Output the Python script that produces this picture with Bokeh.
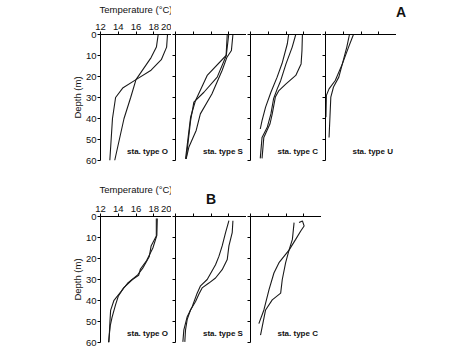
from bokeh.plotting import figure
from bokeh.layouts import row, column
from bokeh.models import Range1d, Label, Div
from bokeh.embed import file_html
from bokeh.resources import INLINE

FONT = "Liberation Sans"
temp_ticks = [12, 14, 16, 18, 20]
depth_ticks = [0, 10, 20, 30, 40, 50, 60]

# ---- Panel A, station type O
A_O_d1 = [0, 6, 12, 17, 21.5, 25.5, 30, 40, 60]
A_O_t1 = [19.55, 19.45, 18.85, 17.7, 16.0, 14.5, 13.7, 13.35, 13.05]
A_O_d2 = [0, 6, 11, 21.5, 30, 40, 60]
A_O_t2 = [18.5, 18.3, 17.7, 16.0, 15.4, 14.65, 13.6]

# ---- Panel A, station type S
A_S_d1 = [0, 10, 19.5, 31.4, 39.4, 48.9, 59.2]
A_S_t1 = [17.83, 17.7, 15.57, 14.26, 13.7, 13.43, 13.13]
A_S_d2 = [0, 10, 20.3, 27.5, 32.2, 41, 59.2]
A_S_t2 = [18.0, 17.72, 16.7, 15.2, 14.07, 13.7, 13.2]
A_S_d3 = [0, 7.6, 10.8, 17, 28.3, 37.8, 45.7, 53.7, 59.2]
A_S_t3 = [18.47, 18.3, 17.8, 17.26, 16.1, 14.8, 14.33, 13.5, 13.2]

# ---- Panel A, station type C
A_C_d1 = [0, 4.4, 13.2, 20.3, 27.5, 34.6, 41, 45]
A_C_t1 = [16.3, 16.15, 15.6, 15.0, 14.3, 13.7, 13.3, 13.1]
A_C_d2 = [0, 6, 14, 22, 26, 30.6, 37.8, 44, 49, 59]
A_C_t2 = [17.1, 16.7, 16.0, 15.4, 15.0, 14.6, 14.3, 13.9, 13.3, 13.1]
A_C_d3 = [0, 7.6, 14, 19.5, 23.5, 26.7, 29.8, 37.8, 42.5, 49, 59]
A_C_t3 = [17.85, 17.8, 17.7, 17.1, 16.0, 15.2, 14.8, 14.45, 14.2, 13.5, 13.3]

# ---- Panel A, station type U
A_U_d1 = [0, 6, 14, 21.9, 25.9, 29, 39.4]
A_U_t1 = [15.15, 14.6, 13.9, 13.1, 12.4, 12.1, 12.05]
A_U_d2 = [0, 6, 14, 20.3, 25, 29.8, 39.4, 49]
A_U_t2 = [14.7, 14.4, 13.9, 13.5, 12.9, 12.6, 12.5, 12.4]

# ---- Panel B, station type O
B_O_d1 = [1, 9.3, 14.1, 19, 24.6, 27.8, 31.8, 35.9, 39.9, 44.7, 49.5, 60]
B_O_t1 = [18.29, 18.29, 17.7, 17.5, 16.76, 16.19, 15.05, 14.29, 13.52, 13.14, 13.07, 12.95]
B_O_d2 = [1, 9, 15, 21, 25, 28, 30, 34, 38, 42, 48, 52, 60]
B_O_t2 = [18.4, 18.35, 17.9, 17.2, 16.5, 16.3, 15.6, 14.6, 14.0, 13.7, 13.3, 13.1, 12.9]

# ---- Panel B, station type S
B_S_d1 = [2, 7.7, 14, 20.5, 25.3, 29.3, 31.7, 34, 37, 40.5, 44.5, 49, 54, 59.7]
B_S_t1 = [18.47, 18.39, 18.02, 17.83, 17.26, 16.51, 15.76, 15.0, 14.63, 14.26, 13.69, 13.32, 13.13, 13.05]
B_S_d2 = [2, 7.7, 14, 19, 23, 30, 33, 36.5, 43, 47.7, 54, 59.7]
B_S_t2 = [18.02, 17.64, 17.26, 16.89, 16.51, 15.57, 14.82, 14.44, 13.88, 13.32, 12.94, 12.83]

# ---- Panel B, station type C
B_C_d1 = [2.9, 2.1, 4.5, 6.9, 10.9, 16, 22, 26.9, 34.9, 44.5, 51]
B_C_t1 = [17.47, 17.85, 18.04, 17.66, 17.09, 16.34, 15.21, 14.64, 14.08, 13.51, 12.94]
B_C_d2 = [2.9, 10.9, 16, 22, 30, 36.5, 39.7, 44.5, 56.5]
B_C_t2 = [16.91, 16.72, 16.34, 15.96, 15.58, 15.4, 14.45, 13.7, 13.13]

LINE_COLOR = "#1a1a1a"
TEXT_COLOR = "#111111"


def make_panel(curves, station, first, top_border, bottom_border, label_standoff=6):
    p = figure(frame_width=71, frame_height=126,
               x_range=Range1d(12, 20), y_range=Range1d(60, 0),
               x_axis_location="above", output_backend="svg",
               toolbar_location=None, tools="",
               min_border_left=100 if first else 4,
               min_border_right=0,
               min_border_top=top_border, min_border_bottom=bottom_border)
    p.outline_line_color = None
    p.grid.visible = False
    p.background_fill_color = "white"
    p.border_fill_color = "white"

    for ax in (p.xaxis, p.yaxis):
        ax.axis_line_color = "black"
        ax.axis_line_width = 1
        ax.major_tick_line_color = "black"
        ax.major_tick_out = 3
        ax.major_tick_in = 0
        ax.minor_tick_line_color = None
        ax.major_label_text_font = FONT
        ax.major_label_text_font_size = "9.5px"
        ax.major_label_text_color = TEXT_COLOR
        ax.axis_label_text_font = FONT
        ax.axis_label_text_font_size = "9.5px"
        ax.axis_label_text_font_style = "normal"
        ax.axis_label_text_color = TEXT_COLOR

    p.xaxis.ticker = temp_ticks
    p.yaxis.ticker = depth_ticks
    p.xaxis.major_label_standoff = 2
    if first:
        p.xaxis.axis_label = "Temperature (°C)"
        p.xaxis.axis_label_standoff = label_standoff
        p.yaxis.axis_label = "Depth (m)"
        p.yaxis.major_label_standoff = 1
        p.yaxis.axis_label_standoff = 0
    else:
        p.xaxis.major_label_text_font_size = "0px"
        p.yaxis.major_label_text_font_size = "0px"
        p.yaxis.major_label_standoff = 0

    for t, d in curves:
        p.line(t, d, line_color=LINE_COLOR, line_width=1.1)

    p.add_layout(Label(x=19.6, y=55.5, text="sta. type " + station,
                       text_align="right", text_baseline="middle",
                       text_font=FONT, text_font_size="8px",
                       text_font_style="bold", text_color=TEXT_COLOR))
    return p


TOP_A, BOT_A = 34, 20
TOP_B, BOT_B = 36, 4

a1 = make_panel([(A_O_t1, A_O_d1), (A_O_t2, A_O_d2)], "O", True, TOP_A, BOT_A, label_standoff=6)
a2 = make_panel([(A_S_t1, A_S_d1), (A_S_t2, A_S_d2), (A_S_t3, A_S_d3)], "S", False, TOP_A, BOT_A)
a3 = make_panel([(A_C_t1, A_C_d1), (A_C_t2, A_C_d2), (A_C_t3, A_C_d3)], "C", False, TOP_A, BOT_A)
a4 = make_panel([(A_U_t1, A_U_d1), (A_U_t2, A_U_d2)], "U", False, TOP_A, BOT_A)
label_a = Div(text="A", width=18, height=26, margin=(0, 0, 0, 0),
              styles={"font-family": FONT, "font-size": "14px", "font-weight": "bold",
                      "color": TEXT_COLOR, "padding-top": "2px"})

b1 = make_panel([(B_O_t1, B_O_d1), (B_O_t2, B_O_d2)], "O", True, TOP_B, BOT_B, label_standoff=8)
b2 = make_panel([(B_S_t1, B_S_d1), (B_S_t2, B_S_d2)], "S", False, TOP_B, BOT_B)
b2.xaxis.axis_label = "B"
b2.xaxis.axis_label_text_font_size = "14px"
b2.xaxis.axis_label_text_font_style = "bold"
b2.xaxis.axis_label_standoff = 7
b3 = make_panel([(B_C_t1, B_C_d1), (B_C_t2, B_C_d2)], "C", False, TOP_B, BOT_B)

layout = column(row(a1, a2, a3, a4, label_a, spacing=0),
                row(b1, b2, b3, spacing=0), spacing=0)

open("out.html", "w").write(file_html(layout, INLINE))
